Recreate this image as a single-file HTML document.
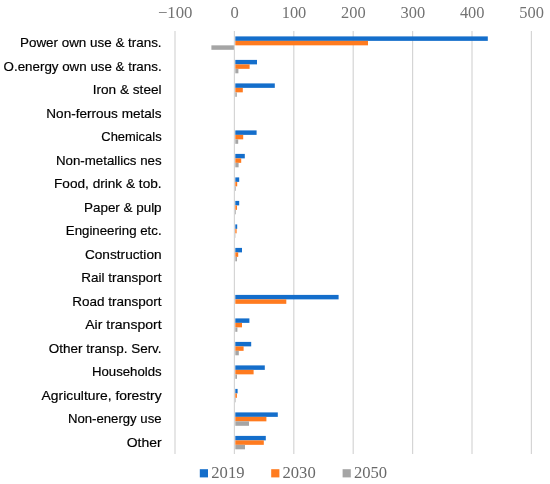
<!DOCTYPE html>
<html lang="en">
<head>
<meta charset="utf-8">
<title>Chart</title>
<style>
html,body{margin:0;padding:0;background:#fff;}
body{width:550px;height:484px;overflow:hidden;}
svg{display:block;}
.cat{font-family:"Liberation Sans",sans-serif;font-size:13.1px;fill:#000;stroke:#000;stroke-width:0.18px;}
.ax{font-family:"Liberation Serif",serif;font-size:16.8px;fill:#727272;}
.lg{font-family:"Liberation Serif",serif;font-size:16.8px;fill:#696969;}
</style>
</head>
<body>
<svg width="550" height="484" viewBox="0 0 550 484">
<rect x="0" y="0" width="550" height="484" fill="#ffffff"/>
<g stroke="#d5d5d5" stroke-width="1.2">
<line x1="175.0" y1="31.0" x2="175.0" y2="454"/>
<line x1="234.4" y1="31.0" x2="234.4" y2="454"/>
<line x1="293.8" y1="31.0" x2="293.8" y2="454"/>
<line x1="353.2" y1="31.0" x2="353.2" y2="454"/>
<line x1="412.6" y1="31.0" x2="412.6" y2="454"/>
<line x1="472.0" y1="31.0" x2="472.0" y2="454"/>
<line x1="531.4" y1="31.0" x2="531.4" y2="454"/>
</g>
<g class="ax" text-anchor="middle">
<text x="175.2" y="17.5" textLength="34.6" lengthAdjust="spacingAndGlyphs">−100</text>
<text x="234.6" y="17.5" textLength="8.3" lengthAdjust="spacingAndGlyphs">0</text>
<text x="294.0" y="17.5" textLength="24.6" lengthAdjust="spacingAndGlyphs">100</text>
<text x="353.4" y="17.5" textLength="24.6" lengthAdjust="spacingAndGlyphs">200</text>
<text x="412.8" y="17.5" textLength="24.6" lengthAdjust="spacingAndGlyphs">300</text>
<text x="472.2" y="17.5" textLength="24.6" lengthAdjust="spacingAndGlyphs">400</text>
<text x="531.6" y="17.5" textLength="24.6" lengthAdjust="spacingAndGlyphs">500</text>
</g>
<g>
<rect x="235.3" y="36.40" width="252.5" height="4.47" fill="#146ecb"/>
<rect x="235.3" y="40.87" width="132.7" height="4.47" fill="#ff7b1f"/>
<rect x="211.4" y="45.34" width="22.5" height="4.47" fill="#a5a5a5"/>
<rect x="235.3" y="59.90" width="21.7" height="4.47" fill="#146ecb"/>
<rect x="235.3" y="64.37" width="14.3" height="4.47" fill="#ff7b1f"/>
<rect x="235.3" y="68.84" width="3.1" height="4.47" fill="#a5a5a5"/>
<rect x="235.3" y="83.40" width="39.5" height="4.47" fill="#146ecb"/>
<rect x="235.3" y="87.87" width="7.5" height="4.47" fill="#ff7b1f"/>
<rect x="235.3" y="92.34" width="1.5" height="4.47" fill="#a5a5a5"/>
<rect x="235.3" y="130.40" width="21.3" height="4.47" fill="#146ecb"/>
<rect x="235.3" y="134.87" width="7.9" height="4.47" fill="#ff7b1f"/>
<rect x="235.3" y="139.34" width="2.9" height="4.47" fill="#a5a5a5"/>
<rect x="235.3" y="153.90" width="9.5" height="4.47" fill="#146ecb"/>
<rect x="235.3" y="158.37" width="5.9" height="4.47" fill="#ff7b1f"/>
<rect x="235.3" y="162.84" width="3.3" height="4.47" fill="#a5a5a5"/>
<rect x="235.3" y="177.40" width="3.9" height="4.47" fill="#146ecb"/>
<rect x="235.3" y="181.87" width="1.9" height="4.47" fill="#ff7b1f"/>
<rect x="235.3" y="186.34" width="0.7" height="4.47" fill="#a5a5a5"/>
<rect x="235.3" y="200.90" width="3.9" height="4.47" fill="#146ecb"/>
<rect x="235.3" y="205.37" width="1.7" height="4.47" fill="#ff7b1f"/>
<rect x="235.3" y="209.84" width="0.7" height="4.47" fill="#a5a5a5"/>
<rect x="235.3" y="224.40" width="1.9" height="4.47" fill="#146ecb"/>
<rect x="235.3" y="228.87" width="1.3" height="4.47" fill="#ff7b1f"/>
<rect x="235.3" y="233.34" width="0.3" height="4.47" fill="#a5a5a5"/>
<rect x="235.3" y="247.90" width="6.7" height="4.47" fill="#146ecb"/>
<rect x="235.3" y="252.37" width="2.9" height="4.47" fill="#ff7b1f"/>
<rect x="235.3" y="256.84" width="1.7" height="4.47" fill="#a5a5a5"/>
<rect x="235.3" y="294.90" width="103.3" height="4.47" fill="#146ecb"/>
<rect x="235.3" y="299.37" width="51.0" height="4.47" fill="#ff7b1f"/>
<rect x="235.3" y="318.40" width="14.1" height="4.47" fill="#146ecb"/>
<rect x="235.3" y="322.87" width="6.7" height="4.47" fill="#ff7b1f"/>
<rect x="235.3" y="327.34" width="2.1" height="4.47" fill="#a5a5a5"/>
<rect x="235.3" y="341.90" width="15.9" height="4.47" fill="#146ecb"/>
<rect x="235.3" y="346.37" width="8.3" height="4.47" fill="#ff7b1f"/>
<rect x="235.3" y="350.84" width="3.5" height="4.47" fill="#a5a5a5"/>
<rect x="235.3" y="365.40" width="29.5" height="4.47" fill="#146ecb"/>
<rect x="235.3" y="369.87" width="18.3" height="4.47" fill="#ff7b1f"/>
<rect x="235.3" y="374.34" width="1.7" height="4.47" fill="#a5a5a5"/>
<rect x="235.3" y="388.90" width="2.3" height="4.47" fill="#146ecb"/>
<rect x="235.3" y="393.37" width="1.6" height="4.47" fill="#ff7b1f"/>
<rect x="235.3" y="397.84" width="0.5" height="4.47" fill="#a5a5a5"/>
<rect x="235.3" y="412.40" width="42.5" height="4.47" fill="#146ecb"/>
<rect x="235.3" y="416.87" width="31.1" height="4.47" fill="#ff7b1f"/>
<rect x="235.3" y="421.34" width="13.7" height="4.47" fill="#a5a5a5"/>
<rect x="235.3" y="435.90" width="30.5" height="4.47" fill="#146ecb"/>
<rect x="235.3" y="440.37" width="28.5" height="4.47" fill="#ff7b1f"/>
<rect x="235.3" y="444.84" width="9.7" height="4.47" fill="#a5a5a5"/>
</g>
<g class="cat">
<text x="20.0" y="47" textLength="141.6" lengthAdjust="spacingAndGlyphs">Power own use &amp; trans.</text>
<text x="3.6" y="71" textLength="158.0" lengthAdjust="spacingAndGlyphs">O.energy own use &amp; trans.</text>
<text x="92.7" y="94" textLength="68.9" lengthAdjust="spacingAndGlyphs">Iron &amp; steel</text>
<text x="46.3" y="118" textLength="115.3" lengthAdjust="spacingAndGlyphs">Non-ferrous metals</text>
<text x="101.3" y="141" textLength="60.3" lengthAdjust="spacingAndGlyphs">Chemicals</text>
<text x="55.9" y="165" textLength="105.7" lengthAdjust="spacingAndGlyphs">Non-metallics nes</text>
<text x="54.0" y="188" textLength="107.6" lengthAdjust="spacingAndGlyphs">Food, drink &amp; tob.</text>
<text x="84.0" y="212" textLength="77.6" lengthAdjust="spacingAndGlyphs">Paper &amp; pulp</text>
<text x="65.8" y="235" textLength="95.8" lengthAdjust="spacingAndGlyphs">Engineering etc.</text>
<text x="84.9" y="259" textLength="76.7" lengthAdjust="spacingAndGlyphs">Construction</text>
<text x="81.2" y="282" textLength="80.4" lengthAdjust="spacingAndGlyphs">Rail transport</text>
<text x="72.3" y="306" textLength="89.3" lengthAdjust="spacingAndGlyphs">Road transport</text>
<text x="85.2" y="329" textLength="76.4" lengthAdjust="spacingAndGlyphs">Air transport</text>
<text x="48.8" y="353" textLength="112.8" lengthAdjust="spacingAndGlyphs">Other transp. Serv.</text>
<text x="92.0" y="376" textLength="69.6" lengthAdjust="spacingAndGlyphs">Households</text>
<text x="41.6" y="400" textLength="120.0" lengthAdjust="spacingAndGlyphs">Agriculture, forestry</text>
<text x="67.9" y="423" textLength="93.7" lengthAdjust="spacingAndGlyphs">Non-energy use</text>
<text x="126.7" y="447" textLength="34.9" lengthAdjust="spacingAndGlyphs">Other</text>
</g>
<g>
<rect x="199.8" y="469.2" width="8.2" height="8.2" fill="#146ecb"/>
<rect x="271.2" y="469.2" width="8.2" height="8.2" fill="#ff7b1f"/>
<rect x="342.6" y="469.2" width="8.2" height="8.2" fill="#a5a5a5"/>
</g>
<g class="lg">
<text x="211.3" y="478" textLength="33.2" lengthAdjust="spacingAndGlyphs">2019</text>
<text x="282.5" y="478" textLength="33.2" lengthAdjust="spacingAndGlyphs">2030</text>
<text x="353.9" y="478" textLength="33.2" lengthAdjust="spacingAndGlyphs">2050</text>
</g>
</svg>
</body>
</html>
